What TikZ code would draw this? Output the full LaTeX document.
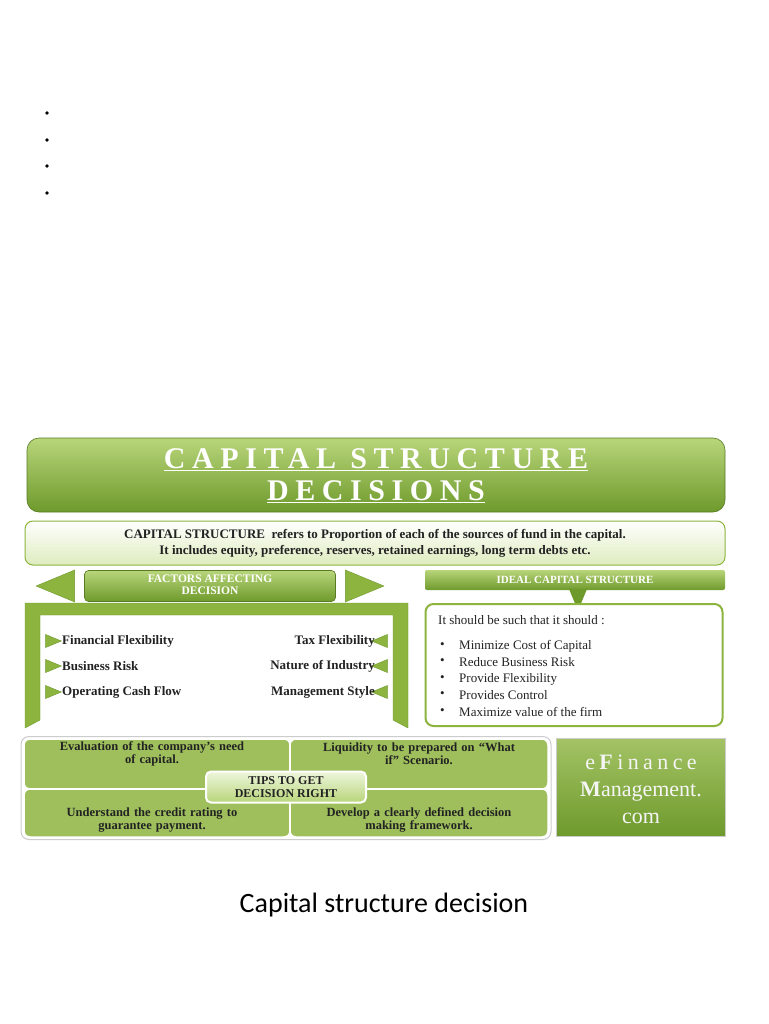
\documentclass[tikz,border=0pt]{standalone}
\usepackage{fontspec}
\setmainfont{Liberation Serif}
\newfontfamily\capfont{Carlito}
\usetikzlibrary{shapes.geometric}
\definecolor{gmid}{HTML}{8DB43F}
\definecolor{gdark}{HTML}{6E9A2C}
\definecolor{glight}{HTML}{B8D57A}
\definecolor{gpale}{HTML}{EEF6DC}
\definecolor{txt}{HTML}{222222}
\tikzset{
  gbox/.style={rounded corners=7pt, top color=glight, bottom color=gdark, draw=gdark!80!black, line width=0.6pt},
  tri/.style={fill=gmid, draw=gdark},
  fac/.style={font=\fontsize{13}{15}\selectfont\bfseries, text=txt, inner sep=0pt},
  quad/.style={fill=gmid!85!white, draw=white, line width=1.5pt},
  qtext/.style={font=\fontsize{12.5}{13}\selectfont\bfseries, text=txt, align=center, text width=250pt},
  ideal/.style={font=\fontsize{13}{15}\selectfont, text=txt, inner sep=0pt, anchor=west}
}
\begin{document}
\begin{tikzpicture}[x=1pt,y=-1pt]
\useasboundingbox (0,0) rectangle (768,1024);
\fill[white] (0,0) rectangle (768,1024);
% bullets
\foreach \yy/\n in {113/b1,140/b2,166/b3,193/b4} \node[circle,fill=black,inner sep=1.3pt] (\n) at (47,\yy) {};
% title
\node[gbox, minimum width=698pt, minimum height=74pt, rounded corners=12pt] (title) at (376,475) {};
\node[font=\fontsize{30}{36}\selectfont\bfseries\addfontfeatures{LetterSpace=22}, text=white, align=center] (tt) at (376,476)
  {\underline{CAPITAL STRUCTURE}\\[-4pt]\underline{DECISIONS}};
% definition
\node[rounded corners=8pt, top color=white, bottom color=gpale!70!glight, draw=gmid, line width=1pt, minimum width=700pt, minimum height=44pt] (def) at (375,543) {};
\node[font=\fontsize{13}{16}\selectfont\bfseries, text=txt, align=center] (deft) at (375,543)
  {CAPITAL STRUCTURE\ \ refers to Proportion of each of the sources of fund in the capital.\\It includes equity, preference, reserves, retained earnings, long term debts etc.};
% factors header
\node[gbox, rounded corners=4pt, minimum width=251pt, minimum height=31pt] (fh) at (210,586) {};
\node[font=\fontsize{11.5}{12}\selectfont\bfseries, text=white, align=center] (fht) at (210,585) {FACTORS AFFECTING\\DECISION};
\node[tri, isosceles triangle, shape border rotate=180, minimum height=27pt, minimum width=32pt, inner sep=0pt] (tl) at (64,586) {};
\node[tri, isosceles triangle, minimum height=27pt, minimum width=32pt, inner sep=0pt] (tr) at (356,586) {};
% bracket frame
\fill[gmid, draw=gdark] (25,603) -- (408,603) -- (408,728) -- (393,720) -- (393,615) -- (40,615) -- (40,720) -- (25,728) -- cycle;
% factors
\foreach \yy/\n/\t in {641/f1/Financial Flexibility,666/f2/Business Risk,692/f3/Operating Cash Flow}{
  \node[tri, isosceles triangle, minimum height=10pt, minimum width=13pt, inner sep=0pt] (\n a) at (50,\yy) {};
  \node[fac, anchor=west] (\n) at (62,\yy) {\t};}
\foreach \yy/\n/\t in {641/g1/Tax Flexibility,666/g2/Nature of Industry,692/g3/Management Style}{
  \node[tri, isosceles triangle, shape border rotate=180, minimum height=10pt, minimum width=13pt, inner sep=0pt] (\n a) at (383,\yy) {};
  \node[fac, anchor=east] (\n) at (375,\yy) {\t};}
% ideal
\node[rounded corners=2pt, top color=glight, bottom color=gdark, minimum width=300pt, minimum height=20pt] (ih) at (575,580) {};
\node[font=\fontsize{11}{12}\selectfont\bfseries, text=white] (iht) at (575,580) {IDEAL CAPITAL STRUCTURE};
\node[fill=gdark, isosceles triangle, shape border rotate=-90, minimum height=8pt, minimum width=18pt, inner sep=0pt] (itri) at (578,595) {};
\node[draw=gmid, line width=2pt, rounded corners=8pt, fill=white, minimum width=297pt, minimum height=122pt] (ib) at (574,665) {};
\node[ideal] (i0) at (438,620) {It should be such that it should :};
\foreach \yy/\n/\t in {646/i1/Minimize Cost of Capital,662/i2/Reduce Business Risk,679/i3/Provide Flexibility,695/i4/Provides Control,712/i5/Maximize value of the firm}{
  \node[ideal] (\n b) at (440,\yy) {\textbullet};
  \node[ideal] (\n) at (459,\yy) {\t};}
% tips grid
\node[draw=gray!40, line width=1pt, rounded corners=8pt, fill=white, minimum width=530pt, minimum height=103pt] (grid) at (286,788) {};
\fill[quad, rounded corners=6pt] (24,739) rectangle (290,789);
\fill[quad, rounded corners=6pt] (290,739) rectangle (548,789);
\fill[quad, rounded corners=6pt] (24,789) rectangle (290,837);
\fill[quad, rounded corners=6pt] (290,789) rectangle (548,837);
\draw[white, line width=2pt] (290,739) -- (290,837) (24,789) -- (548,789);
\node[qtext] (q1) at (152,754) {Evaluation of the company’s need\\of capital.};
\node[qtext] (q2) at (419,754) {Liquidity to be prepared on “What\\if” Scenario.};
\node[qtext] (q3) at (152,820) {Understand the credit rating to\\guarantee payment.};
\node[qtext] (q4) at (419,820) {Develop a clearly defined decision\\making framework.};
\node[rounded corners=5pt, top color=gpale, bottom color=glight, draw=white, line width=2pt, minimum width=160pt, minimum height=31pt] (tips) at (286,787) {};
\node[font=\fontsize{12}{12.5}\selectfont\bfseries, text=txt, align=center] (tipst) at (286,787) {TIPS TO GET\\DECISION RIGHT};
% efinance
\node[top color=gmid!80!white, bottom color=gdark, draw=gray!40, line width=1pt, minimum width=169pt, minimum height=98pt] (ef) at (641,787) {};
\node[font=\fontsize{22}{27}\selectfont, text=white!92!gray, align=center] (eft) at (641,789)
  {{\addfontfeatures{LetterSpace=20}e\textbf{F}inance}\\\textbf{M}anagement.\\com};
% caption
\node[font=\capfont\fontsize{28}{32}\selectfont, text=black] (cap) at (384,905) {Capital structure decision};
\end{tikzpicture}
\end{document}
